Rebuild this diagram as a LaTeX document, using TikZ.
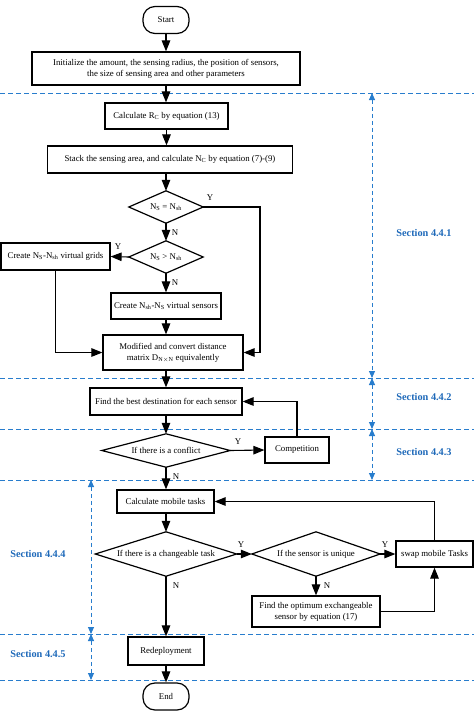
\documentclass[tikz,border=0pt]{standalone}
\usepackage{fontspec}
\setmainfont{Liberation Serif}
\usetikzlibrary{arrows.meta}
\definecolor{secblue}{RGB}{40,125,205}
\definecolor{sectext}{RGB}{30,105,185}
\tikzset{
  box/.style={draw, line width=1.2pt, rectangle, inner sep=1pt, align=center, font=\fontsize{8.8}{11}\selectfont},
  term/.style={box, rounded corners=12pt},
  dia/.style={rectangle, inner sep=0pt, align=center, font=\fontsize{8.8}{11}\selectfont},
  diaedge/.style={line width=1.2pt, line join=miter},
  arr/.style={line width=1.1pt, -{Triangle[length=11pt,width=8.5pt]}},
  lbl/.style={font=\fontsize{8.8}{10}\selectfont, inner sep=0pt},
  sepline/.style={secblue, line width=0.9pt, dash pattern=on 5pt off 3pt},
  secarr/.style={secblue, line width=0.9pt, dash pattern=on 4pt off 3pt, {Triangle[length=7pt,width=6pt]}-{Triangle[length=7pt,width=6pt]}},
  sec/.style={text=sectext, font=\bfseries\fontsize{10.3}{12}\selectfont, inner sep=0pt}
}
\begin{document}
\begin{tikzpicture}[x=1pt,y=-1pt]
\useasboundingbox (0,0) rectangle (474,716);
% separators
\foreach \i/\yy in {1/93,2/378,3/429,4/480,5/634,6/680}{
  \coordinate (sa\i) at (0,\yy);
  \coordinate (sb\i) at (474,\yy);
  \draw[sepline] (sa\i) -- (sb\i);
}
% section arrows
\coordinate (v1) at (372,93);
\coordinate (v2) at (372,378);
\coordinate (v3) at (372,429);
\coordinate (v4) at (372,480);
\coordinate (w1) at (91,480);
\coordinate (w2) at (91,634);
\coordinate (w3) at (91,680);
\draw[secarr] (v1) -- (v2);
\draw[secarr] (v2) -- (v3);
\draw[secarr] (v3) -- (v4);
\draw[secarr] (w1) -- (w2);
\draw[secarr] (w2) -- (w3);
\node[sec] (s1) at (424,233) {Section 4.4.1};
\node[sec] (s2) at (424,397) {Section 4.4.2};
\node[sec] (s3) at (424,452) {Section 4.4.3};
\node[sec] (s4) at (38,554) {Section 4.4.4};
\node[sec] (s5) at (38,654) {Section 4.4.5};

% nodes
\node[term, minimum width=46pt, minimum height=27pt] (start) at (166,20) {Start};
\node[box, minimum width=268pt, minimum height=33pt] (init) at (166,68.5) {Initialize the amount, the sensing radius, the position of sensors,\\the size of sensing area and other parameters};
\node[box, minimum width=123pt, minimum height=26pt] (rc) at (166.5,116) {Calculate R$_{\mathrm{C}}$ by equation (13)};
\node[box, minimum width=245pt, minimum height=27pt] (stack) at (170,159.5) {Stack the sensing area, and calculate N$_{\mathrm{C}}$ by equation (7)-(9)};
\node[dia, minimum width=74pt, minimum height=32pt] (d1) at (166,207) {N$_{\mathrm{S}}$ = N$_{\mathrm{sh}}$};
\node[dia, minimum width=74pt, minimum height=32pt] (d2) at (166,257) {N$_{\mathrm{S}}$ > N$_{\mathrm{sh}}$};
\node[box, minimum width=109pt, minimum height=27pt] (grids) at (55.5,256.5) {Create N$_{\mathrm{S}}$-N$_{\mathrm{sh}}$ virtual grids};
\node[box, minimum width=110pt, minimum height=26pt] (vsens) at (166,306) {Create N$_{\mathrm{sh}}$-N$_{\mathrm{S}}$ virtual sensors};
\node[box, minimum width=140pt, minimum height=35pt] (modif) at (173,352.5) {Modified and convert distance\\matrix D$_{\mathrm{N\times N}}$ equivalently};
\node[box, minimum width=152pt, minimum height=27pt] (best) at (166,401.5) {Find the best destination for each sensor};
\node[dia, minimum width=128pt, minimum height=33pt] (d3) at (166,450.5) {If there is a conflict};
\node[box, minimum width=64pt, minimum height=26pt] (comp) at (297,450) {Competition};
\node[box, minimum width=97pt, minimum height=23pt] (mobile) at (165.5,501.5) {Calculate mobile tasks};
\node[dia, minimum width=141pt, minimum height=44pt] (d4) at (166,554) {If there is a changeable task};
\node[dia, minimum width=128pt, minimum height=44pt] (d5) at (316,554) {If the sensor is unique};
\node[box, minimum width=77pt, minimum height=26pt] (swap) at (434.5,554) {swap mobile Tasks};
\node[box, minimum width=128pt, minimum height=31pt] (opt) at (316,611.5) {Find the optimum exchangeable\\sensor by equation (17)};
\node[box, minimum width=76pt, minimum height=28pt] (redep) at (166,651) {Redeployment};
\node[term, minimum width=46pt, minimum height=27pt] (end) at (166,696.5) {End};

% diamond outlines
\foreach \d in {d1,d2,d3,d4,d5}{
  \draw[diaedge] (\d.north) -- (\d.east) -- (\d.south) -- (\d.west) -- cycle;
}

% connectors
\draw[arr] (start) -- (init);
\draw[arr] (init) -- (init |- rc.north);
\draw[arr] (rc) -- (rc |- stack.north);
\draw[arr] (stack.south -| d1.north) -- (d1.north);
\coordinate (r1) at (260,352.5);
\draw[arr] (d1.east) -| (r1) -- (modif.east);
\node[lbl] (y1) at (210,198) {Y};
\draw[arr] (d1.south) -- (d2.north);
\node[lbl] (n1) at (175,233) {N};
\draw[arr] (d2.west) -- (grids.east);
\node[lbl] (y2) at (118,247) {Y};
\draw[arr] (d2.south) -- (vsens.north);
\node[lbl] (n2) at (175,283) {N};
\draw[arr] (vsens.south) -- (vsens.south |- modif.north);
\draw[arr] (grids.south) |- (modif.west);
\draw[arr] (modif.south -| best.north) -- (best.north);
\draw[arr] (best.south) -- (d3.north);
\draw[arr] (d3.east) -- (comp.west);
\node[lbl] (y3) at (238,442) {Y};
\draw[arr] (comp.north) |- (best.east);
\draw[arr] (d3.south) -- (d3.south |- mobile.north);
\node[lbl] (n3) at (176,477) {N};
\draw[arr] (mobile.south -| d4.north) -- (d4.north);
\draw[arr] (d4.east) -- (d5.west);
\node[lbl] (y4) at (241,545) {Y};
\draw[arr] (d5.east) -- (swap.west);
\node[lbl] (y5) at (385,545) {Y};
\draw[arr] (swap.north) |- (mobile.east);
\draw[arr] (d5.south) -- (opt.north);
\node[lbl] (n5) at (327,586) {N};
\draw[arr] (opt.east) -| (swap.south);
\draw[arr] (d4.south) -- (redep.north);
\node[lbl] (n4) at (176,586) {N};
\draw[arr] (redep.south) -- (end.north);
\end{tikzpicture}
\end{document}
